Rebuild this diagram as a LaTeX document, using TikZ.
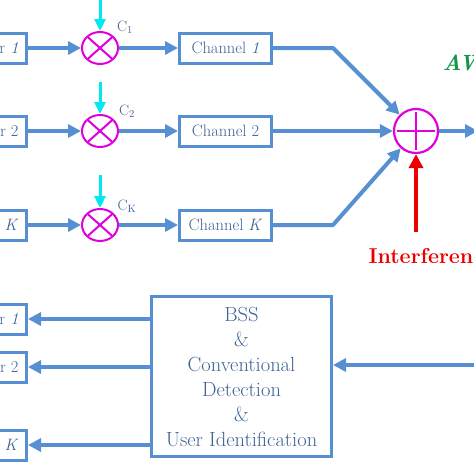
\documentclass[tikz,border=0pt]{standalone}
\usetikzlibrary{arrows.meta,positioning,shapes.geometric}
\definecolor{lineblue}{RGB}{86,143,210}
\definecolor{txtblue}{RGB}{62,98,148}
\definecolor{mag}{RGB}{222,0,222}
\definecolor{cyanarr}{RGB}{0,232,240}
\definecolor{redarr}{RGB}{235,0,0}
\definecolor{awgngreen}{RGB}{20,150,70}

\tikzset{
  blk/.style={draw=lineblue,line width=3pt,text=txtblue,minimum height=30pt,inner xsep=8pt,inner ysep=0pt,font=\fontsize{16.5}{19}\selectfont},
  mult/.style={ellipse,draw=mag,line width=2pt,minimum width=36pt,minimum height=32pt,inner sep=0pt},
  summ/.style={circle,draw=mag,line width=2.2pt,minimum size=44pt,inner sep=0pt},
  sig/.style={draw=lineblue,line width=4pt,line join=round,-{Triangle[length=13pt,width=13pt]}},
  code/.style={draw=cyanarr,line width=3pt,-{Triangle[length=12pt,width=11pt]}},
  intf/.style={draw=redarr,line width=4.5pt,-{Triangle[length=14pt,width=14pt]}},
  mark2/.style={draw=mag,line width=2pt,shorten >=2pt,shorten <=2pt},
  lbl/.style={text=txtblue,font=\fontsize{15}{17}\selectfont},
}

\begin{document}
\begin{tikzpicture}[x=1pt,y=1pt,yscale=-1]
\useasboundingbox (0,0) rectangle (474,474);
\clip (0,0) rectangle (474,474);

%users (transmit side)
\node[blk,anchor=east] (u1) at (28,48) {User \textit{1}};
\node[blk,anchor=east] (u2) at (28,131) {User 2};
\node[blk,anchor=east] (uK) at (28,225) {User \textit{K}};

%multipliers
\node[mult] (m1) at (100,48) {};
\node[mult] (m2) at (100,131) {};
\node[mult] (mK) at (100,225) {};
\foreach \m in {m1,m2,mK}{
  \draw[mark2] (\m.north west) -- (\m.south east);
  \draw[mark2] (\m.south west) -- (\m.north east);
}

%spreading codes
\coordinate (c1) at (100,-5);
\coordinate (c2) at (100,82);
\coordinate (cK) at (100,175);
\draw[code] (c1) -- (m1.north);
\draw[code] (c2) -- (m2.north);
\draw[code] (cK) -- (mK.north);
\node[lbl] (lc1) at (125,27) {C\textsubscript{1}};
\node[lbl] (lc2) at (127,111) {C\textsubscript{2}};
\node[lbl] (lcK) at (127,206) {C\textsubscript{K}};

%channels
\node[blk,minimum width=92pt,inner xsep=2pt] (ch1) at (225.5,48) {Channel \textit{1}};
\node[blk,minimum width=92pt,inner xsep=2pt] (ch2) at (225.5,131) {Channel 2};
\node[blk,minimum width=92pt,inner xsep=2pt] (chK) at (225.5,225) {Channel \textit{K}};

%adder
\node[summ] (sum) at (416,131) {};
\draw[mark2,shorten >=4pt,shorten <=4pt] (sum.north) -- (sum.south);
\draw[mark2,shorten >=4pt,shorten <=4pt] (sum.west) -- (sum.east);

\coordinate (t1) at (333,48);
\coordinate (tK) at (333,225);

\draw[sig] (u1) -- (m1);
\draw[sig] (u2) -- (m2);
\draw[sig] (uK) -- (mK);
\draw[sig] (m1) -- (ch1);
\draw[sig] (m2) -- (ch2);
\draw[sig] (mK) -- (chK);
\draw[sig] (ch1.east) -- (t1) -- (sum);
\draw[sig] (ch2) -- (sum);
\draw[sig] (chK.east) -- (tK) -- (sum);

% noise and interference
\coordinate (ni) at (416,232);
\draw[intf] (ni) -- (sum.south);
\node[anchor=west,text=redarr,font=\bfseries\fontsize{21.5}{24}\selectfont] (itxt) at (365,256) {Interference};
\node[anchor=west,text=awgngreen,font=\bfseries\itshape\fontsize{22}{26}\selectfont] (awgn) at (439,63) {AWGN};
\coordinate (out) at (478,131);
\draw[sig] (sum) -- (out);

%receiver
\node[blk,minimum width=180pt,minimum height=160pt,align=center,font=\fontsize{20.5}{25}\selectfont] (bss) at (241.5,376.5) {BSS\\\&\\Conventional\\Detection\\\&\\User Identification};
\coordinate (rx) at (482,365);
\draw[sig] (rx) -- (rx -| bss.east);

\node[blk,anchor=east] (o1) at (28,319) {User \textit{1}};
\node[blk,anchor=east] (o2) at (28,367) {User 2};
\node[blk,anchor=east] (oK) at (28,445) {User \textit{K}};
\draw[sig] (bss.west |- o1) -- (o1.east);
\draw[sig] (bss.west |- o2) -- (o2.east);
\draw[sig] (bss.west |- oK) -- (oK.east);

\end{tikzpicture}
\end{document}
